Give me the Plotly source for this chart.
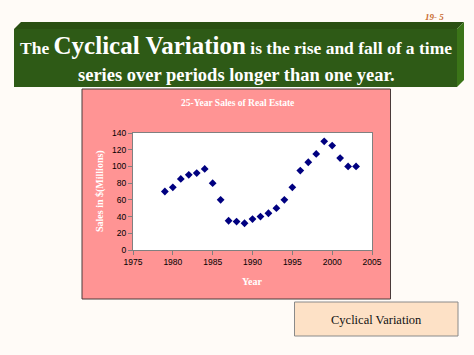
import plotly.graph_objects as go

years = [1979, 1980, 1981, 1982, 1983, 1984, 1985, 1986, 1987, 1988, 1989, 1990,
         1991, 1992, 1993, 1994, 1995, 1996, 1997, 1998, 1999, 2000, 2001, 2002, 2003]
sales = [70, 75, 85, 90, 92, 97, 80, 60, 35, 34, 32, 37,
         40, 44, 50, 60, 75, 95, 105, 115, 130, 125, 110, 100, 100]

x_ticks = [1975, 1980, 1985, 1990, 1995, 2000, 2005]
y_ticks = [0, 20, 40, 60, 80, 100, 120, 140]

chart_title = "25-Year Sales of Real Estate"
x_title = "Year"
y_title = "Sales in $(Millions)"
slide_num = "19- 5"
box_label = "Cyclical Variation"

W, H = 474, 355
L, R, T, B = 133, 372, 133, 250  # plot area in pixels

def px(x):
    return (x - L) / (R - L)

def py(y):
    return (B - y) / (B - T)

SERIF = "Liberation Serif"

fig = go.Figure()
fig.add_trace(go.Scatter(
    x=years, y=sales, mode="markers",
    marker=dict(symbol="diamond", size=6, color="#000080"),
    showlegend=False, cliponaxis=False, hoverinfo="skip",
))

shapes = []
# banner: top bevel, right side, front
shapes.append(dict(type="path", xref="paper", yref="paper", layer="below",
                   path=f"M{px(14)},{py(29)} L{px(21)},{py(22)} L{px(464)},{py(22)} L{px(457)},{py(29)} Z",
                   fillcolor="#2a4f12", line=dict(width=0)))
shapes.append(dict(type="path", xref="paper", yref="paper", layer="below",
                   path=f"M{px(457)},{py(29)} L{px(464)},{py(22)} L{px(464)},{py(80)} L{px(457)},{py(87)} Z",
                   fillcolor="#3b7418", line=dict(width=0)))
shapes.append(dict(type="rect", xref="paper", yref="paper", layer="below",
                   x0=px(14), x1=px(457), y0=py(87), y1=py(29),
                   fillcolor="#2e5a16", line=dict(width=0)))
# pink chart frame
shapes.append(dict(type="rect", xref="paper", yref="paper", layer="below",
                   x0=px(82), x1=px(390.5), y0=py(299), y1=py(89),
                   fillcolor="#ff9494", line=dict(color="#4a3a3a", width=1)))
# white plot area
shapes.append(dict(type="rect", xref="paper", yref="paper", layer="below",
                   x0=0, x1=1, y0=0, y1=1,
                   fillcolor="white", line=dict(width=0)))
# peach box
shapes.append(dict(type="rect", xref="paper", yref="paper", layer="above",
                   x0=px(294.5), x1=px(458), y0=py(336), y1=py(302),
                   fillcolor="#fde1c6", line=dict(color="#8a8a8a", width=1)))

annotations = [
    dict(text=("<b>The <span style='font-size:25px'>Cyclical Variation</span> "
               "is the rise and fall of a time</b>"),
         x=px(236), y=py(56), xref="paper", yref="paper", showarrow=False,
         xanchor="center", yanchor="bottom", yshift=-5,
         font=dict(family=SERIF, size=17.5, color="white")),
    dict(text="<b>series over periods longer than one year.</b>",
         x=px(236), y=py(75), xref="paper", yref="paper", showarrow=False,
         xanchor="center", yanchor="middle",
         font=dict(family=SERIF, size=18.5, color="white")),
    dict(text=f"<b><i>{slide_num}</i></b>", x=px(434), y=py(17), xref="paper", yref="paper",
         showarrow=False, xanchor="center", yanchor="middle",
         font=dict(family=SERIF, size=9, color="#c8682c")),
    dict(text=f"<b>{chart_title}</b>", x=px(237), y=py(102.5), xref="paper", yref="paper",
         showarrow=False, xanchor="center", yanchor="middle",
         font=dict(family=SERIF, size=9.5, color="white")),
    dict(text=f"<b>{x_title}</b>", x=px(252), y=py(281), xref="paper", yref="paper",
         showarrow=False, xanchor="center", yanchor="middle",
         font=dict(family=SERIF, size=10, color="white")),
    dict(text=f"<b>{y_title}</b>", x=px(100), y=py(191), xref="paper", yref="paper",
         showarrow=False, xanchor="center", yanchor="middle", textangle=-90,
         font=dict(family=SERIF, size=10, color="white")),
    dict(text=box_label, x=px(376), y=py(320), xref="paper", yref="paper",
         showarrow=False, xanchor="center", yanchor="middle",
         font=dict(family=SERIF, size=12.5, color="#111111")),
]

fig.update_layout(
    width=W, height=H,
    margin=dict(l=L, r=W - R, t=T, b=H - B, pad=0),
    paper_bgcolor="#fffbf7",
    plot_bgcolor="rgba(0,0,0,0)",
    shapes=shapes,
    annotations=annotations,
    showlegend=False,
    hovermode=False,
    xaxis=dict(range=[1975, 2005], tickvals=x_ticks, ticktext=[str(v) for v in x_ticks],
               showgrid=False, zeroline=False, showline=True, mirror=True,
               linecolor="#808080", linewidth=1, ticks="outside", ticklen=4,
               tickcolor="#808080", tickfont=dict(family="Liberation Sans", size=8.5, color="black")),
    yaxis=dict(range=[0, 140], tickvals=y_ticks, ticktext=[str(v) for v in y_ticks],
               showgrid=False, zeroline=False, showline=True, mirror=True,
               linecolor="#808080", linewidth=1, ticks="outside", ticklen=4,
               tickcolor="#808080", tickfont=dict(family="Liberation Sans", size=8.5, color="black")),
)

fig.write_html("out.html", config={"displayModeBar": False},
               post_script="document.body.style.margin='0px';document.body.style.background='#fffbf7';")
